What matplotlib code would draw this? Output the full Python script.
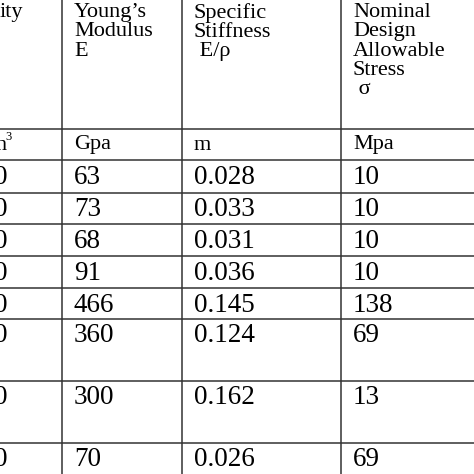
import matplotlib
matplotlib.use("Agg")
import matplotlib.pyplot as plt

header = ["Young’s\nModulus\nE", "Specific\nStiffness\n E/ρ", "Nominal\nDesign\nAllowable\nStress\n σ"]
units = ["Gpa", "m", "Mpa"]
modulus = ["63", "73", "68", "91", "466", "360", "300", "70"]
stiffness = ["0.028", "0.033", "0.031", "0.036", "0.145", "0.124", "0.162", "0.026"]
stress = ["10", "10", "10", "10", "138", "69", "13", "69"]

W = 474
fig = plt.figure(figsize=(4.74, 4.74), dpi=100)
ax = fig.add_axes([0, 0, 1, 1])
ax.set_xlim(0, W); ax.set_ylim(W, 0); ax.axis("off")

lc = "#333333"
vx = [62, 182, 341]
hy = [129, 160, 193, 224, 256, 288, 319, 381, 443]
for x in vx:
    ax.plot([x, x], [0, W], color=lc, lw=1.1)
for y in hy:
    ax.plot([0, W], [y, y], color=lc, lw=1.1)

fam = "Liberation Serif"
cx = [74, 194, 353]
for i, h in enumerate(header):
    ax.text(cx[i], 3, h, fontfamily=fam, fontsize=16, va="top", ha="left", linespacing=1.02)
ax.text(0, 3, "ity", fontfamily=fam, fontsize=16, va="top", ha="left")
for i, u in enumerate(units):
    ax.text(cx[i], 145, u, fontfamily=fam, fontsize=16, va="center", ha="left")
ax.text(-5, 146, "n", fontfamily=fam, fontsize=16, va="center", ha="left")
ax.text(5, 137, "3", fontfamily=fam, fontsize=9, va="center", ha="left")

tops = [160, 193, 224, 256, 288, 319, 381, 443]
for r in range(len(modulus)):
    y = tops[r] + 17
    ax.text(-6, y, "0", fontfamily=fam, fontsize=19.5, va="center", ha="left")
    for i, col in enumerate([modulus, stiffness, stress]):
        ax.text(cx[i], y, col[r], fontfamily=fam, fontsize=19.5, va="center", ha="left")

fig.savefig("out.png", dpi=100)
